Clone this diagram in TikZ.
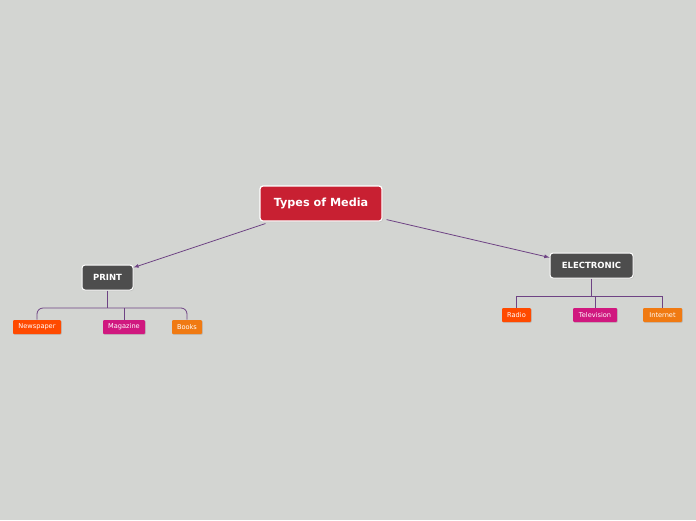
\documentclass[tikz,border=0pt]{standalone}
\usepackage{fontspec}
\setmainfont{DejaVu Sans}
\usetikzlibrary{shadows}
\definecolor{bg}{HTML}{D3D5D2}
\definecolor{topicred}{HTML}{C82032}
\definecolor{topicgray}{HTML}{4D4D4D}
\definecolor{link}{HTML}{6E4384}
\definecolor{redorange}{HTML}{FF4A00}
\definecolor{magenta}{HTML}{D0187F}
\definecolor{orange}{HTML}{F07A12}
\begin{document}
\begin{tikzpicture}[x=1pt, y=-1pt, thick,
    main/.style = {draw=white, line width=1.2pt, rounded corners=3pt, fill=topicred, text=white, font=\bfseries\fontsize{11.2}{13}\selectfont, minimum width=122pt, minimum height=35pt, drop shadow={opacity=0.25, shadow xshift=1pt, shadow yshift=-1pt}},
    sub/.style = {draw=white, line width=1pt, rounded corners=3pt, fill=topicgray, text=white, font=\bfseries\fontsize{8.5}{10}\selectfont, minimum height=25pt, drop shadow={opacity=0.25, shadow xshift=1pt, shadow yshift=-1pt}},
    leaf/.style = {rounded corners=1pt, text=white, font=\fontsize{6.6}{7}\selectfont, minimum height=14pt, inner xsep=3pt, inner ysep=0pt, drop shadow={opacity=0.25, shadow xshift=0.8pt, shadow yshift=-0.8pt}},
    link/.style = {draw=link, line width=0.8pt}]
    \fill[bg] (0,0) rectangle (696,520);
    \node[main] (M) at (321,203.5) {Types of Media};
    \node[sub, minimum width=51pt] (P) at (107.5,277.5) {PRINT};
    \node[sub, minimum width=83pt] (E) at (591.5,265.5) {ELECTRONIC};
    \node[leaf, fill=redorange, minimum width=48pt] (N) at (37,327) {Newspaper};
    \node[leaf, fill=magenta, minimum width=42pt] (G) at (124,327) {Magazine};
    \node[leaf, fill=orange, minimum width=30pt] (B) at (187,327) {Books};
    \node[leaf, fill=redorange, minimum width=29pt] (R) at (516.5,315) {Radio};
    \node[leaf, fill=magenta, minimum width=44pt] (T) at (595,315) {Television};
    \node[leaf, fill=orange, minimum width=39pt] (I) at (662.5,315) {Internet};
    \draw[link, -latex] ([xshift=6pt, yshift=-2pt]M.south west) -- ([yshift=-3pt]P.north east);
    \draw[link, -latex] ([xshift=4pt, yshift=2pt]M.south east) -- ([yshift=8pt]E.west);
    \draw[link] (P.south) -- (107.5,308);
    \draw[link, rounded corners=6pt] (N.north) -- (37,308) -- (187,308) -- (B.north);
    \draw[link] (124,308) -- (G.north);
    \draw[link] (E.south) -- (591.5,296);
    \draw[link] (R.north) -- (516.5,296) -- (662.5,296) -- (I.north);
    \draw[link] (595,296) -- (T.north);
\end{tikzpicture}
\end{document}
